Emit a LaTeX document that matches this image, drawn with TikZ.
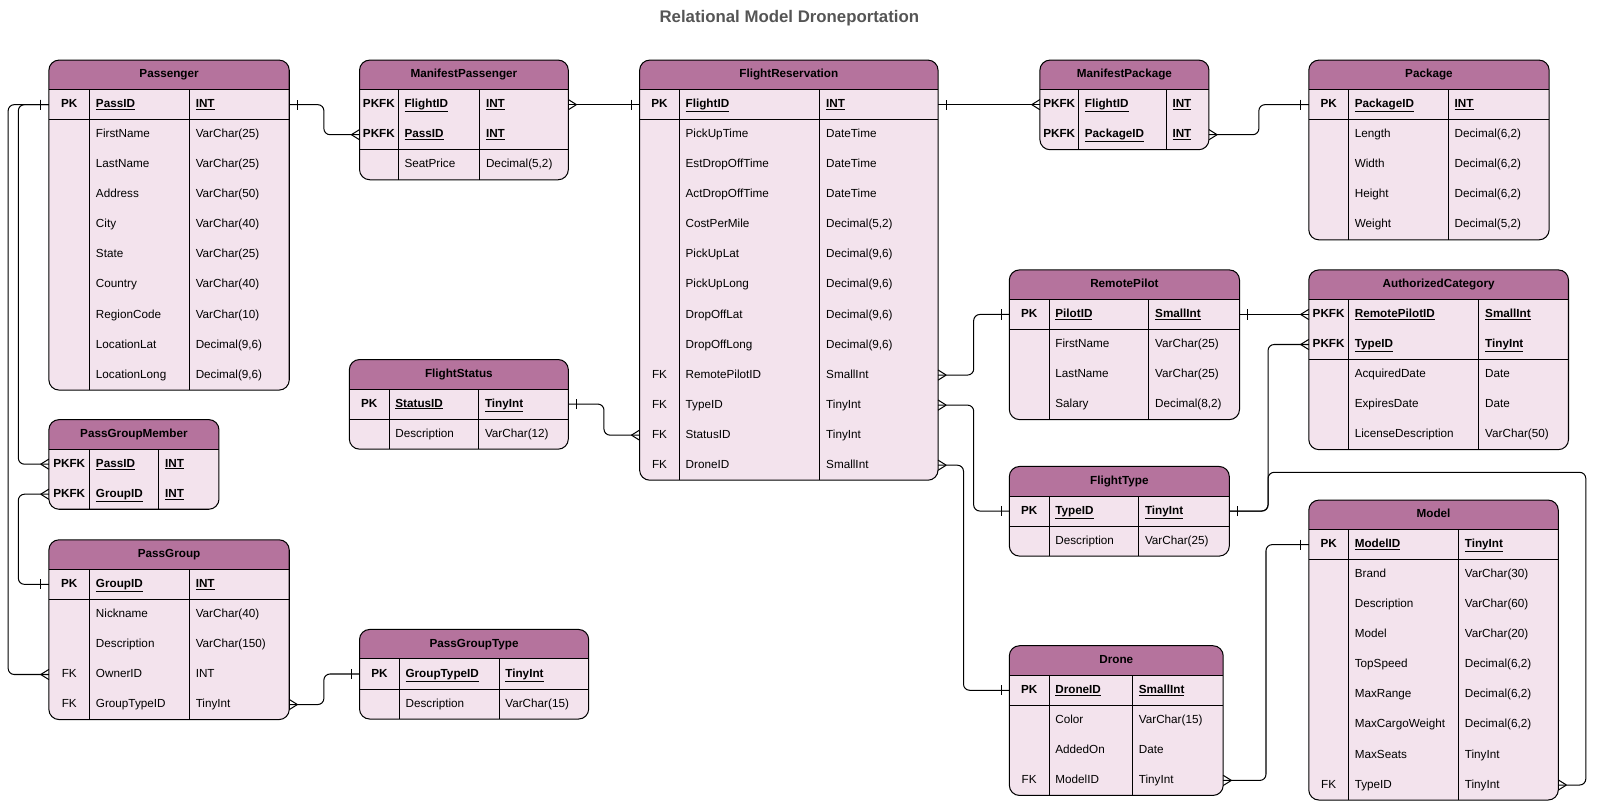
\documentclass[tikz,border=0pt]{standalone}
\usepackage{fontspec}
\setmainfont{Liberation Sans}
\usetikzlibrary{calc,decorations.markings}

\definecolor{headfill}{HTML}{B5739D}
\definecolor{bodyfill}{HTML}{F3E3ED}
\definecolor{titlegray}{HTML}{555555}

\newcommand\pk[1]{\textbf{\underline{#1}}}

% #1 name, #2 x, #3 y, #4-#6 column widths, #7 key rows, #8 rows, #9 row data
\newcommand\ertable[9]{%
  \pgfmathsetmacro\xa{#2+#4}\pgfmathsetmacro\xb{#2+#4+#5}\pgfmathsetmacro\xr{#2+#4+#5+#6}
  \pgfmathsetmacro\yh{#3+29}\pgfmathsetmacro\yk{#3+29+29.5*#7}\pgfmathsetmacro\yb{#3+29+29.5*#8}
  \fill[bodyfill,rounded corners=10] (#2,#3) rectangle (\xr,\yb);
  \begin{scope}
    \clip[rounded corners=10] (#2,#3) rectangle (\xr,\yb);
    \fill[headfill] (#2,#3) rectangle (\xr,\yh);
    \draw[tline] (#2,\yh) -- (\xr,\yh) (#2,\yk) -- (\xr,\yk)
      (\xa,\yh) -- (\xa,\yb) (\xb,\yh) -- (\xb,\yb);
  \end{scope}
  \draw[tline,rounded corners=10] (#2,#3) rectangle (\xr,\yb);
  \node[font=\bfseries\fontsize{11.5}{13}\selectfont] (#1-title) at ({(#2+\xr)/2},{#3+14.5}) {#1};
  \foreach \k/\n/\t [count=\i] in {#9} {
    \pgfmathsetmacro\yc{#3+29+29.5*(\i-0.5)}
    \node (#1-\i-k) at ({#2+#4/2},\yc) {\k};
    \node[anchor=west] (#1-\i-n) at (\xa+2,\yc) {\n};
    \node[anchor=west] (#1-\i-t) at (\xb+2,\yc) {\t};
    \coordinate (#1-\i-w) at (#2,\yc);
    \coordinate (#1-\i-e) at (\xr,\yc);
  }%
}

\begin{document}
\begin{tikzpicture}[x=1pt,y=-1pt,
  every node/.style={font=\fontsize{11.5}{13}\selectfont, inner sep=4pt, text height=8.5pt, text depth=2.5pt},
  tline/.style={draw=black, line width=1pt},
  rel/.style={draw, line width=1pt, rounded corners=6,
    postaction={decorate, decoration={markings,
      mark=at position 8pt with {\draw[sharp corners] (0,-5pt) -- (0,5pt);},
      mark=at position 1 with {\draw[sharp corners] (-8pt,0) -- (0,5pt) (-8pt,0) -- (0,-5pt);}}}},
]
\useasboundingbox (0,0) rectangle (1568,786);

\node[font=\bfseries\fontsize{16.5}{19}\selectfont, text=titlegray] (title) at (775,19) {Relational Model Droneportation};

\ertable{Passenger}{48}{59}{40}{98}{98}{1}{10}{\textbf{PK}/\pk{PassID}/\pk{INT}, /FirstName/{VarChar(25)}, /LastName/{VarChar(25)}, /Address/{VarChar(50)}, /City/{VarChar(40)}, /State/{VarChar(25)}, /Country/{VarChar(40)}, /RegionCode/{VarChar(10)}, /LocationLat/{Decimal(9,6)}, /LocationLong/{Decimal(9,6)}}
\ertable{ManifestPassenger}{353}{59}{38}{80}{87}{2}{3}{\textbf{PKFK}/\pk{FlightID}/\pk{INT}, \textbf{PKFK}/\pk{PassID}/\pk{INT}, /SeatPrice/{Decimal(5,2)}}
\ertable{FlightReservation}{628}{59}{39}{138}{116}{1}{13}{\textbf{PK}/\pk{FlightID}/\pk{INT}, /PickUpTime/DateTime, /EstDropOffTime/DateTime, /ActDropOffTime/DateTime, /CostPerMile/{Decimal(5,2)}, /PickUpLat/{Decimal(9,6)}, /PickUpLong/{Decimal(9,6)}, /DropOffLat/{Decimal(9,6)}, /DropOffLong/{Decimal(9,6)}, FK/RemotePilotID/SmallInt, FK/TypeID/TinyInt, FK/StatusID/TinyInt, FK/DroneID/SmallInt}
\ertable{ManifestPackage}{1021}{59}{38}{86}{42}{2}{2}{\textbf{PKFK}/\pk{FlightID}/\pk{INT}, \textbf{PKFK}/\pk{PackageID}/\pk{INT}}
\ertable{Package}{1285}{59}{39}{98}{99}{1}{5}{\textbf{PK}/\pk{PackageID}/\pk{INT}, /Length/{Decimal(6,2)}, /Width/{Decimal(6,2)}, /Height/{Decimal(6,2)}, /Weight/{Decimal(5,2)}}
\ertable{FlightStatus}{343}{353}{39}{88}{88}{1}{2}{\textbf{PK}/\pk{StatusID}/\pk{TinyInt}, /Description/{VarChar(12)}}
\ertable{RemotePilot}{991}{265}{39}{98}{89}{1}{4}{\textbf{PK}/\pk{PilotID}/\pk{SmallInt}, /FirstName/{VarChar(25)}, /LastName/{VarChar(25)}, /Salary/{Decimal(8,2)}}
\ertable{AuthorizedCategory}{1285}{265}{39}{128}{88}{2}{5}{\textbf{PKFK}/\pk{RemotePilotID}/\pk{SmallInt}, \textbf{PKFK}/\pk{TypeID}/\pk{TinyInt}, /AcquiredDate/Date, /ExpiresDate/Date, /LicenseDescription/{VarChar(50)}}
\ertable{PassGroupMember}{48}{412}{40}{68}{59}{2}{2}{\textbf{PKFK}/\pk{PassID}/\pk{INT}, \textbf{PKFK}/\pk{GroupID}/\pk{INT}}
\ertable{FlightType}{991}{458}{39}{88}{89}{1}{2}{\textbf{PK}/\pk{TypeID}/\pk{TinyInt}, /Description/{VarChar(25)}}
\ertable{PassGroup}{48}{530}{40}{98}{98}{1}{5}{\textbf{PK}/\pk{GroupID}/\pk{INT}, /Nickname/{VarChar(40)}, /Description/{VarChar(150)}, FK/OwnerID/INT, FK/GroupTypeID/TinyInt}
\ertable{PassGroupType}{353}{618}{39}{98}{88}{1}{2}{\textbf{PK}/\pk{GroupTypeID}/\pk{TinyInt}, /Description/{VarChar(15)}}
\ertable{Drone}{991}{634}{39}{82}{89}{1}{4}{\textbf{PK}/\pk{DroneID}/\pk{SmallInt}, /Color/{VarChar(15)}, /AddedOn/Date, FK/ModelID/TinyInt}
\ertable{Model}{1285}{491}{39}{108}{98}{1}{9}{\textbf{PK}/\pk{ModelID}/\pk{TinyInt}, /Brand/{VarChar(30)}, /Description/{VarChar(60)}, /Model/{VarChar(20)}, /TopSpeed/{Decimal(6,2)}, /MaxRange/{Decimal(6,2)}, /MaxCargoWeight/{Decimal(6,2)}, /MaxSeats/TinyInt, FK/TypeID/TinyInt}

% Relationships (one side first)
\draw[rel] (Passenger-1-e) -- ++(34,0) |- (ManifestPassenger-2-w);
\draw[rel] (FlightReservation-1-w) -- (ManifestPassenger-1-e);
\draw[rel] (FlightReservation-1-e) -- (ManifestPackage-1-w);
\draw[rel] (Package-1-w) -- ++(-49,0) |- (ManifestPackage-2-e);
\draw[rel] (FlightStatus-1-e) -- ++(35,0) |- (FlightReservation-12-w);
\draw[rel] (RemotePilot-1-w) -- ++(-35,0) |- (FlightReservation-10-e);
\draw[rel] (FlightType-1-w) -- ++(-35,0) |- (FlightReservation-11-e);
\draw[rel] (Drone-1-w) -- ++(-45,0) |- (FlightReservation-13-e);
\draw[rel] (RemotePilot-1-e) -- (AuthorizedCategory-1-w);
\draw[rel] (FlightType-1-e) -- ++(38,0) |- (AuthorizedCategory-2-w);
\draw[rel] (FlightType-1-e) -- ++(38,0) -- ++(0,-38) -- ++(312,0) |- (Model-9-e);
\draw[rel] (Model-1-w) -- ++(-42,0) |- (Drone-4-e);
\draw[rel] (Passenger-1-w) -- ++(-30,0) |- (PassGroupMember-1-w);
\draw[rel] (PassGroup-1-w) -- ++(-30,0) |- (PassGroupMember-2-w);
\draw[rel] (Passenger-1-w) -- ++(-40,0) |- (PassGroup-4-w);
\draw[rel] (PassGroupType-1-w) -- ++(-35,0) |- (PassGroup-5-e);
\end{tikzpicture}
\end{document}
